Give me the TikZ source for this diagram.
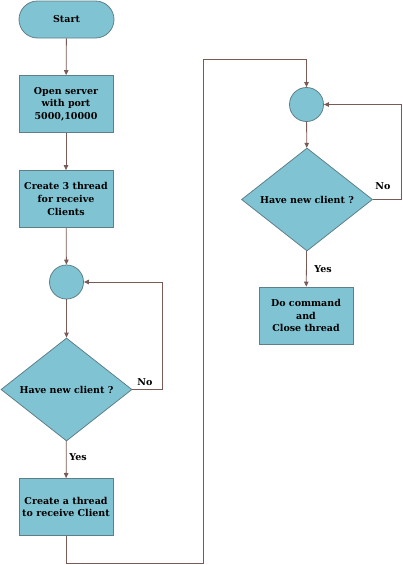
\documentclass[tikz,border=0pt]{standalone}
\usepackage{fontspec}
\setmainfont{DejaVu Serif}
\usetikzlibrary{shapes.geometric,shapes.misc,arrows.meta}
\definecolor{fillc}{HTML}{80C4D4}
\definecolor{bordc}{HTML}{5F7F88}
\definecolor{linec}{HTML}{7A5A55}
\begin{document}
\begin{tikzpicture}[x=1pt,y=-1pt,
  every node/.style={font=\fontsize{9.5}{12.7}\selectfont\bfseries},
  base/.style={draw=bordc,fill=fillc,line width=0.8pt,inner sep=0pt,align=center},
  term/.style={base,rounded rectangle,minimum width=95pt,minimum height=37pt},
  procbox/.style={base,rectangle,minimum width=94pt,minimum height=57pt},
  conn/.style={base,circle,minimum size=34pt},
  decis/.style={base,diamond,minimum width=131pt,minimum height=103pt,aspect=1.27},
  lbl/.style={font=\fontsize{9.5}{12.7}\selectfont\bfseries},
  arr/.style={draw=linec,line width=0.8pt,-{Triangle[length=5pt,width=4.5pt]}},
  ln/.style={draw=linec,line width=0.8pt}]
\useasboundingbox (0,0) rectangle (402,565);
\node[term] (start) at (66.5,19.5) {Start};
\node[procbox] (open) at (66,104) {Open server\\with port\\5000,10000};
\node[procbox] (create3) at (66,199) {Create 3 thread\\for receive\\Clients};
\node[conn] (c1) at (66.5,282) {};
\node[decis] (d1) at (66.5,389.5) {Have new client ?};
\node[procbox] (create1) at (66,507) {Create a thread\\to receive Client};
\node[conn] (c2) at (306.5,104.5) {};
\node[decis] (d2) at (307,199.5) {Have new client ?};
\node[procbox] (docmd) at (306,315.5) {Do command\\and\\Close thread};
\coordinate (r1) at (162,389.5);
\coordinate (b1) at (66,563);
\coordinate (b2) at (203,563);
\coordinate (t2) at (203,59);
\coordinate (t3) at (306.5,59);
\coordinate (r2) at (401,199.5);
\draw[arr] (start) -- (open);
\draw[arr] (open) -- (create3);
\draw[arr] (create3) -- (c1);
\draw[arr] (c1) -- (d1);
\draw[arr] (d1.east) -- (r1) |- (c1.east);
\draw[arr] (d1) -- (create1);
\draw[ln] (create1.south) -- (b1) -- (b2) -- (t2) -- (t3);
\draw[arr] (t3) -- (c2);
\draw[arr] (c2) -- (d2);
\draw[arr] (d2.east) -- (r2) |- (c2.east);
\draw[arr] (d2) -- (docmd);
\node[lbl] (no1) at (145,382) {No};
\node[lbl] (yes1) at (78,457) {Yes};
\node[lbl] (no2) at (383,186) {No};
\node[lbl] (yes2) at (323,269) {Yes};
\end{tikzpicture}
\end{document}
